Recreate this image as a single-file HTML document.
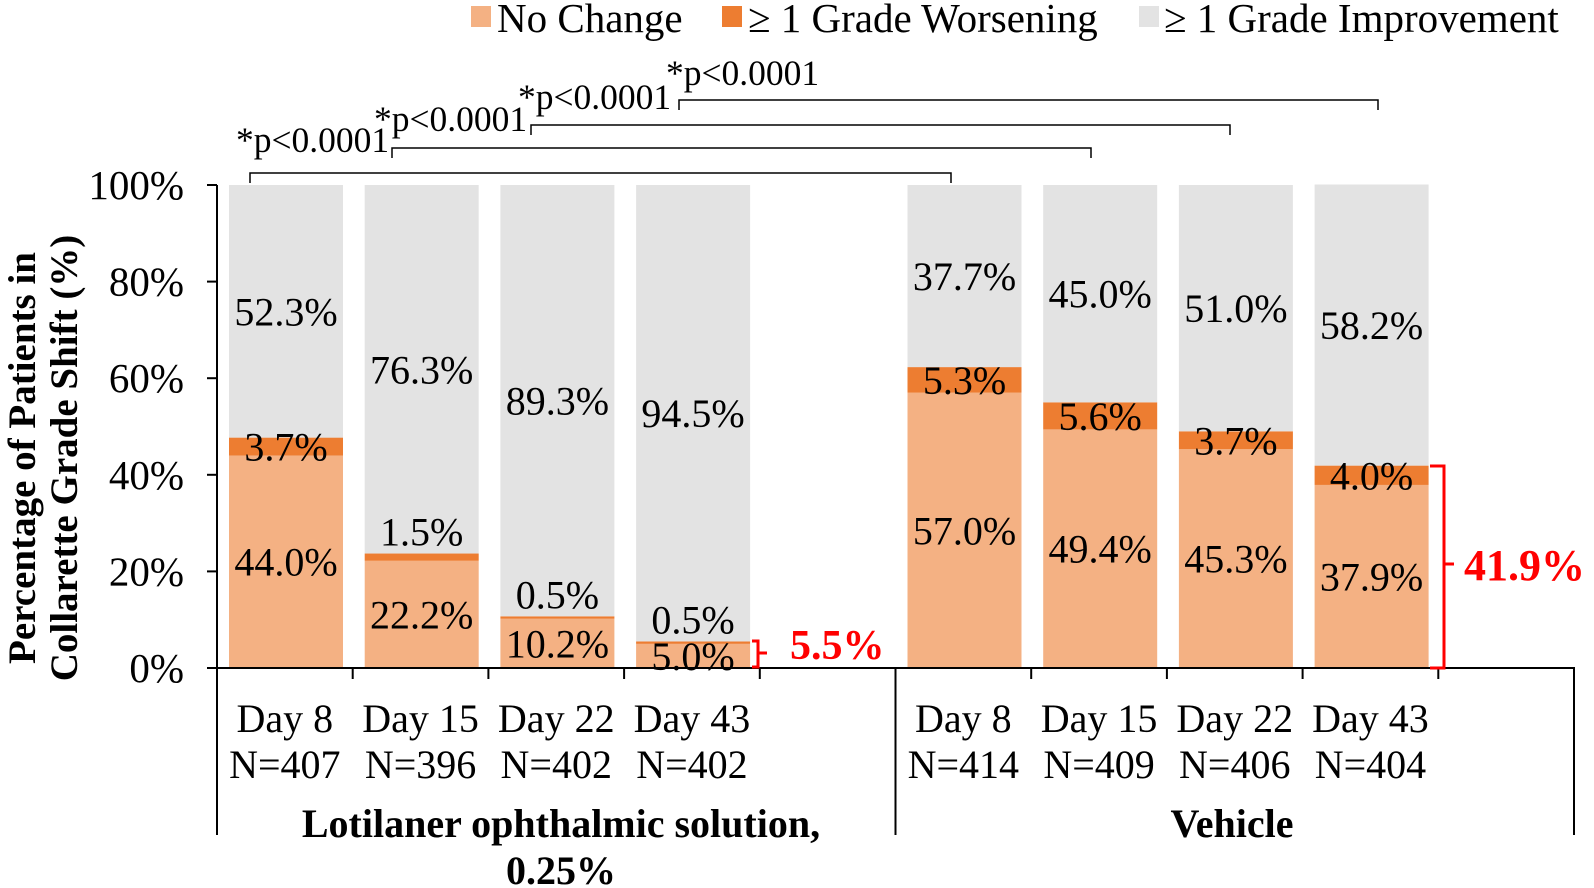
<!DOCTYPE html>
<html><head><meta charset="utf-8"><style>
html,body{margin:0;padding:0;background:#fff;}
svg{display:block;font-family:"Liberation Serif",serif;}
</style></head><body>
<svg id="chart" width="1594" height="888" viewBox="0 0 1594 888" xmlns="http://www.w3.org/2000/svg">
<g id="legend">
  <rect x="471" y="6" width="20" height="21" fill="#f4b183"/>
  <text x="497" y="32" font-size="41">No Change</text>
  <rect x="722" y="6" width="20" height="21" fill="#ed7d31"/>
  <text x="748" y="32" font-size="41">≥ 1 Grade Worsening</text>
  <rect x="1139" y="6" width="20" height="21" fill="#e3e3e3"/>
  <text x="1164" y="32" font-size="41">≥ 1 Grade Improvement</text>
</g>
<g id="ytitle" font-weight="bold" font-size="39" text-anchor="middle">
  <text transform="translate(35,458) rotate(-90)">Percentage of Patients in</text>
  <text transform="translate(77,458) rotate(-90)">Collarette Grade Shift (%)</text>
</g>
<g id="bars"></g>
<g id="axes"></g>
<g id="pvals" font-size="35.5"></g>
<g id="red">
  <path d="M752 641 h6 v12 h9 M758 653 v14 h-6" fill="none" stroke="#ff0000" stroke-width="3"/>
  <text x="790" y="659" font-size="42" font-weight="bold" fill="#ff0000">5.5%</text>
  <path d="M1430 466 h14 v98 h10 M1444 564 v104 h-14" fill="none" stroke="#ff0000" stroke-width="3"/>
  <text x="1464" y="580" font-size="44" font-weight="bold" fill="#ff0000">41.9%</text>
</g>
<g id="cats" font-size="40" text-anchor="middle"></g>
<g id="groups" font-size="40" font-weight="bold" text-anchor="middle">
  <text x="561" y="837">Lotilaner ophthalmic solution,</text>
  <text x="561" y="884">0.25%</text>
  <text x="1232" y="837">Vehicle</text>
</g>
</svg>
<script>
const categories = ["Day 8","Day 15","Day 22","Day 43","Day 8","Day 15","Day 22","Day 43"];
const nValues = ["N=407","N=396","N=402","N=402","N=414","N=409","N=406","N=404"];
const noChange = [44.0,22.2,10.2,5.0,57.0,49.4,45.3,37.9];
const worsening = [3.7,1.5,0.5,0.5,5.3,5.6,3.7,4.0];
const improvement = [52.3,76.3,89.3,94.5,37.7,45.0,51.0,58.2];
const slotIndex = [0,1,2,3,5,6,7,8];
const yTicks = [0,20,40,60,80,100];
const pLabels = ["*p<0.0001","*p<0.0001","*p<0.0001","*p<0.0001"];

const NS="http://www.w3.org/2000/svg";
const X0=217, SLOT=135.7, Y0=668, Y100=185;
const y = v => Y0 - (Y0-Y100)*v/100;
const slotX = k => X0 + k*SLOT;
function mk(tag, attrs, parent){const e=document.createElementNS(NS,tag);for(const k in attrs)e.setAttribute(k,attrs[k]);parent.appendChild(e);return e;}
const bars=document.getElementById('bars'), axes=document.getElementById('axes'), cats=document.getElementById('cats'), pv=document.getElementById('pvals');

categories.forEach((c,i)=>{
  const bx=slotX(slotIndex[i])+12, bw=114;
  const segs=[[0,noChange[i],'#f4b183','no-change'],[noChange[i],worsening[i],'#ed7d31','worsening'],[noChange[i]+worsening[i],improvement[i],'#e3e3e3','improvement']];
  segs.forEach(s=>{
    const r=mk('rect',{x:bx,y:y(s[0]+s[1]),width:bw,height:y(s[0])-y(s[0]+s[1]),fill:s[2]},bars);
    
    
  });
  const cx=bx+bw/2;
  const lab=(txt,cy,name)=>{const t=mk('text',{x:cx,y:cy+14,'font-size':40,'text-anchor':'middle'},bars);t.textContent=txt;
    
    };
  lab(noChange[i].toFixed(1)+'%', y(noChange[i]/2), 'label-no-change-'+(i+1));
  const top=noChange[i]+worsening[i];
  const wy = worsening[i]<3 ? y(top)-22 : y(noChange[i]+worsening[i]/2);
  lab(worsening[i].toFixed(1)+'%', wy, 'label-worsening-'+(i+1));
  lab(improvement[i].toFixed(1)+'%', y(top+improvement[i]/2), 'label-improvement-'+(i+1));
  const t1=mk('text',{x:slotX(slotIndex[i])+SLOT/2,y:732},cats);t1.textContent=c;
  
  
  const t2=mk('text',{x:slotX(slotIndex[i])+SLOT/2,y:778},cats);t2.textContent=nValues[i];
  
  
});

const ya=mk('line',{x1:X0,y1:Y100,x2:X0,y2:Y0,stroke:'#000','stroke-width':2},axes);


yTicks.forEach(v=>{
  mk('line',{x1:X0-10,y1:y(v),x2:X0,y2:y(v),stroke:'#000','stroke-width':2},axes);
  const t=mk('text',{x:X0-33,y:y(v)+14,'font-size':41,'text-anchor':'end'},axes);t.textContent=v+'%';
  
  
});
const xa=mk('path',{d:`M${X0} ${Y0} H${slotX(10)} V835 M${X0} ${Y0} V835 M${slotX(5)} ${Y0} V835`,fill:'none',stroke:'#000','stroke-width':2},axes);


for(let k=1;k<10;k++){ if(k===5) continue; mk('line',{x1:slotX(k),y1:Y0,x2:slotX(k),y2:Y0+11,stroke:'#000','stroke-width':2},axes);}

const brk=[[250,951,173,236,152],[392,1091,148,374,131],[531,1230,125,518,109],[679,1378,100,666,85]];
pLabels.forEach((p,i)=>{
  const b=brk[i];
  const pa=mk('path',{d:`M${b[0]} ${b[2]+10} V${b[2]} H${b[1]} V${b[2]+10}`,fill:'none',stroke:'#000','stroke-width':1.5},pv);
  
  
  const t=mk('text',{x:b[3],y:b[4]},pv);t.textContent=p;
  
  
});
</script>
</body></html>
